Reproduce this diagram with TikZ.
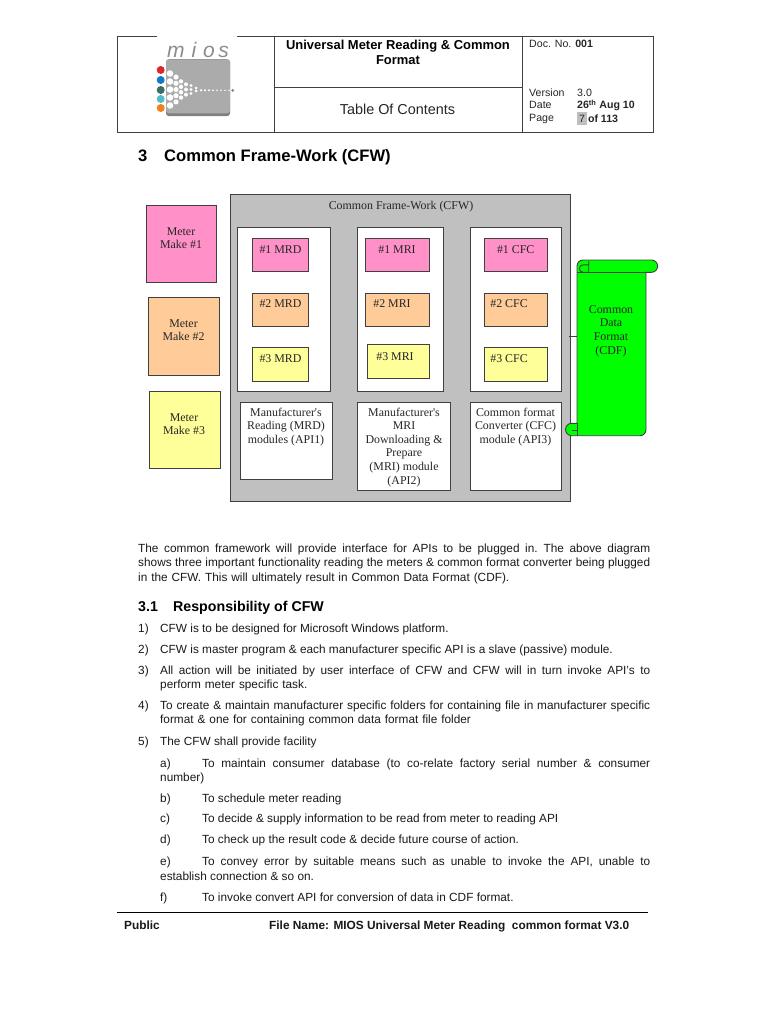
\documentclass[tikz,border=0pt]{standalone}
\usepackage{fontspec}
\setmainfont{Liberation Sans}
\newfontfamily\myserif{Liberation Serif}
\usepackage{xcolor}
\usetikzlibrary{calc}
\definecolor{mypink}{RGB}{255,145,200}
\definecolor{myorange}{RGB}{255,204,153}
\definecolor{myyellow}{RGB}{255,255,153}
\definecolor{mygrey}{RGB}{192,192,192}
\definecolor{mygreen}{RGB}{0,255,0}
\definecolor{mylogored}{RGB}{220,40,40}
\definecolor{mylogoblue}{RGB}{20,120,200}
\definecolor{mylogoteal}{RGB}{60,110,100}
\definecolor{mylogocyan}{RGB}{80,190,200}
\definecolor{mylogoorange}{RGB}{240,130,30}
\pgfkeys{tikz/myline/.style={draw=black!75,line width=0.9pt}}
\pgfkeys{tikz/myboxstyle/.style={myline,rectangle,inner sep=0pt,outer sep=0pt}}
\pgfkeys{tikz/mylabel/.style={inner sep=0pt,yshift=-0.6pt,align=center,font=\myserif\fontsize{11.9}{13.6}\selectfont,text=black!85}}
\pgfkeys{tikz/mytext/.style={inner sep=0pt,anchor=base west,font=\fontsize{11.82}{14.2}\selectfont,text=black!90}}
\pgfkeys{tikz/myhead/.style={inner sep=0pt,anchor=base west,font=\bfseries\fontsize{16.6}{20}\selectfont}}
\pgfkeys{tikz/mysub/.style={inner sep=0pt,anchor=base west,font=\bfseries\fontsize{14.2}{17}\selectfont}}
\pgfkeys{tikz/mysmall/.style={inner sep=0pt,anchor=base west,font=\fontsize{10.6}{12.6}\selectfont,text=black!85}}
\newcommand*\mybox[6][white]{
    \node[myboxstyle,fill=#1,minimum width={(#5-#3)*1pt},minimum height={(#6-#4)*1pt}] (#2) at ({(#3+#5)/2},{(#4+#6)/2}) {};
}
\newcommand\myjust[2][512pt]{\leavevmode\hbox to #1{\spaceskip=0.2em plus 1em\relax #2}}
\begin{document}
\begin{tikzpicture}[x=1pt,y=-1pt]
    \useasboundingbox[fill=white] (0,0) rectangle (768,1024);
    % page header
    \draw[myline] (117,36) rectangle (653,132);
    \draw[myline] (274,36) -- (274,132) (522,36) -- (522,132) (274,87) -- (522,87);
    \draw[white,line width=2pt] (157,36) -- (237,36);
    \node[inner sep=0pt,font=\itshape\fontsize{21}{21}\selectfont,text=black!45] (logotext) at (198,50) {m\,\,i\,\,o\,s};
    \node[rectangle,rounded corners=3pt,fill=black!50,minimum width=64pt,minimum height=57pt,inner sep=0pt] (logoshadow) at (198,87.7) {};
    \node[rectangle,rounded corners=3pt,fill=black!33,minimum width=64pt,minimum height=54pt,inner sep=0pt] (logobox) at (198,86.3) {};
    \foreach \y/\c in {70/mylogored,80/mylogoblue,90/mylogoteal,99/mylogocyan,108/mylogoorange}
        \fill[\c] (160.7,\y) circle (4);
    \foreach \x/\n/\s/\r in {170/5/8/3.3,176/5/6.2/2.6,181/4/5.4/2.2,186/3/5.2/2,191/3/4/1.7,196/2/3/1.5}
        \foreach \i in {1,...,\n}
            \fill[white] (\x,{89.5+(\i-(\n+1)/2)*\s}) circle (\r);
    \foreach \x/\r in {201/1.3,205/1.2,209/1.1,213/1,217/0.9,221/0.9,225/0.8,229/0.8}
        \fill[white] (\x,90.3) circle (\r);
    \fill[black!50] (232.7,90.3) circle (1.5);
    \node[inner sep=0pt,align=center,font=\bfseries\fontsize{12.95}{15.6}\selectfont] (doctitle) at (398,52.5) {Universal Meter Reading \& Common\\Format};
    \node[inner sep=0pt,font=\fontsize{14.4}{18}\selectfont,text=black!85] (doccontents) at (397.5,109) {Table Of Contents};
    \node[mysmall] (docno) at (529,48) {Doc. No. \textbf{001}};
    \node[mysmall] (docversion) at (529,97) {Version};
    \node[mysmall] (docdate) at (529,109) {Date};
    \node[mysmall] (docpage) at (529,122) {Page};
    \node[mysmall] (docversionv) at (577,97) {3.0};
    \node[mysmall] (docdatev) at (577,109) {\textbf{26\textsuperscript{th} Aug 10}};
    \fill[black!25] (577,112) rectangle (587,125);
    \node[mysmall] (docpagev) at (579,122.5) {7 \textbf{of 113}};
    \node[myhead] (secnum) at (138,162) {3};
    \node[myhead] (sectitle) at (164,162) {Common Frame-Work (CFW)};
    % diagram
    \mybox[mypink]{meterone}{146}{205}{216.7}{282}
    \mybox[myorange]{metertwo}{148}{297}{219}{375}
    \mybox[myyellow]{meterthree}{149}{391}{220.5}{468}
    \node[mylabel] (meteronelabel) at (181,237.5) {Meter\\Make \#1};
    \node[mylabel] (metertwolabel) at (183.5,329.5) {Meter\\Make \#2};
    \node[mylabel] (meterthreelabel) at (184,423.5) {Meter\\Make \#3};
    \mybox[mygrey]{cfw}{230.3}{194.7}{570.7}{501}
    \node[mylabel] (cfwlabel) at (401,206.5) {Common Frame-Work (CFW)};
    \mybox{colmrd}{237.3}{227.7}{330}{391.3}
    \mybox{colmri}{357.7}{227.7}{443.3}{391.3}
    \mybox{colcfc}{470.3}{227.7}{561.7}{391.3}
    \mybox[mypink]{mrdone}{252.3}{238.3}{308.7}{271.3}
    \mybox[myorange]{mrdtwo}{252.3}{293}{308.7}{326.3}
    \mybox[myyellow]{mrdthree}{252.3}{347.7}{308.7}{381.3}
    \mybox[mypink]{mrione}{365.7}{238.3}{429.3}{271.3}
    \mybox[myorange]{mritwo}{365.7}{293}{429.3}{326.3}
    \mybox[myyellow]{mrithree}{367.7}{344.7}{429.3}{378}
    \mybox[mypink]{cfcone}{484.3}{238.3}{547.7}{271.3}
    \mybox[myorange]{cfctwo}{484.3}{293}{547.7}{326.3}
    \mybox[myyellow]{cfcthree}{484.3}{347.7}{547.7}{381.3}
    \node[mylabel] (mrdonelabel) at (280.5,249.3) {\#1 MRD};
    \node[mylabel] (mrdtwolabel) at (280.5,303) {\#2 MRD};
    \node[mylabel] (mrdthreelabel) at (280.5,358) {\#3 MRD};
    \node[mylabel] (mrionelabel) at (397,249.3) {\#1 MRI};
    \node[mylabel] (mritwolabel) at (392,303) {\#2 MRI};
    \node[mylabel] (mrithreelabel) at (395,355.7) {\#3 MRI};
    \node[mylabel] (cfconelabel) at (515.7,249.3) {\#1 CFC};
    \node[mylabel] (cfctwolabel) at (509,303) {\#2 CFC};
    \node[mylabel] (cfcthreelabel) at (509,358) {\#3 CFC};
    \mybox{apione}{240.3}{402.7}{332.7}{479.3}
    \mybox{apitwo}{357.7}{402.7}{450.3}{490.3}
    \mybox{apithree}{470.3}{402.7}{561.7}{490.3}
    \node[mylabel,anchor=north] (apionelabel) at (286,407) {Manufacturer's\\Reading (MRD)\\modules (API1)};
    \node[mylabel,anchor=north] (apitwolabel) at (404,407) {Manufacturer's\\MRI\\Downloading \&\\Prepare\\(MRI) module\\(API2)};
    \node[mylabel,anchor=north] (apithreelabel) at (515.5,407) {Common format\\Converter (CFC)\\module (API3)};
    % scroll
    \coordinate (cdfleft) at (576.7,336.7);
    \draw[myline,fill=mygreen] (577,266) arc (180:270:6) -- (651.5,260) arc (-90:90:6.15) -- (646,272.3) -- (646,429.7) arc (0:90:6) -- (571.7,435.7) arc (90:270:6.2) -- (577,423.3) -- cycle;
    \draw[myline] (577,272.3) -- (646,272.3);
    \draw[myline] (577,423.3) -- (577,435.7) (571.7,430) -- (577,430);
    \draw[myline] (588.7,261) -- (588.7,272.3) -- (583,272.3) arc (90:270:3.7) -- (588.7,264.9);
    \draw[myline] (cfw.east |- cdfleft) ++(-1.5,0) -- (cdfleft);
    \node[mylabel] (cdflabel) at (611,330.5) {Common\\Data\\Format\\(CDF)};
    % page text
    \node[mytext,align=left,text width=512pt,anchor=north west] (paraone) at (138,544) {\myjust{The common framework will provide interface for APIs to be plugged in. The above diagram}\\\myjust{shows three important functionality reading the meters \& common format converter being plugged}\\in the CFW. This will ultimately result in Common Data Format (CDF).};
    \node[mysub] (subnum) at (138,611) {3.1};
    \node[mysub] (subtitle) at (173,611) {Responsibility of CFW};
    \node[mytext] (itemone) at (138,632) {1)};
    \node[mytext] (itemonet) at (160,632) {CFW is to be designed for Microsoft Windows platform.};
    \node[mytext] (itemtwo) at (138,653) {2)};
    \node[mytext] (itemtwot) at (160,653) {CFW is master program \& each manufacturer specific API is a slave (passive) module.};
    \node[mytext] (itemthree) at (138,674) {3)};
    \node[mytext,align=left,text width=490pt,anchor=north west] (itemthreet) at (160,665.3) {\myjust[490pt]{All action will be initiated by user interface of CFW and CFW will in turn invoke API's to}\\perform meter specific task.};
    \node[mytext] (itemfour) at (138,709) {4)};
    \node[mytext,align=left,text width=490pt,anchor=north west] (itemfourt) at (160,700.3) {\myjust[490pt]{To create \& maintain manufacturer specific folders for containing file in manufacturer specific}\\format \& one for containing common data format file folder};
    \node[mytext] (itemfive) at (138,745) {5)};
    \node[mytext] (itemfivet) at (160,745) {The CFW shall provide facility};
    \node[mytext] (suba) at (160,767) {a)};
    \node[mytext] (subat) at (202,767) {\myjust[448pt]{To maintain consumer database (to co-relate factory serial number \& consumer}};
    \node[mytext] (subab) at (160,781) {number)};
    \node[mytext] (subb) at (160,802) {b)};
    \node[mytext] (subbt) at (202,802) {To schedule meter reading};
    \node[mytext] (subc) at (160,822) {c)};
    \node[mytext] (subct) at (202,822) {To decide \& supply information to be read from meter to reading API};
    \node[mytext] (subd) at (160,843) {d)};
    \node[mytext] (subdt) at (202,843) {To check up the result code \& decide future course of action.};
    \node[mytext] (sube) at (160,865) {e)};
    \node[mytext] (subet) at (202,865) {\myjust[448pt]{To convey error by suitable means such as unable to invoke the API, unable to}};
    \node[mytext] (subeb) at (160,880) {establish connection \& so on.};
    \node[mytext] (subf) at (160,901) {f)};
    \node[mytext] (subft) at (202,901) {To invoke convert API for conversion of data in CDF format.};
    % page footer
    \coordinate (footleft) at (117,912);
    \coordinate (footright) at (648,912);
    \draw[line width=0.9pt] (footleft) -- (footright);
    \node[mytext,font=\bfseries\fontsize{11.85}{14}\selectfont] (footpublic) at (124,929) {Public};
    \node[mytext,font=\bfseries\fontsize{11.85}{14}\selectfont] (footfile) at (269,929) {File Name: MIOS Universal Meter Reading\ \ common format V3.0};
\end{tikzpicture}
\end{document}
